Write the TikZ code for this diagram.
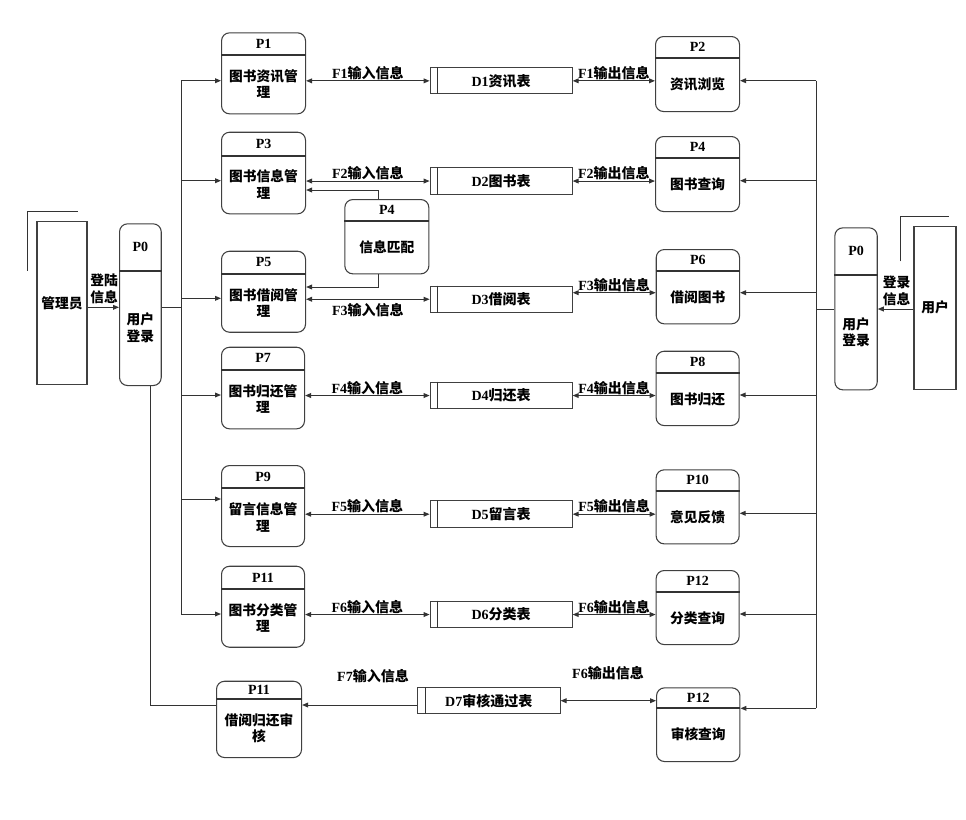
\documentclass[tikz,border=0pt]{standalone}
\usepackage{fontspec}
\setmainfont{Liberation Serif}
\newfontfamily\zh{Noto Sans CJK SC}
\usepackage{tikz}
\usetikzlibrary{positioning,calc,arrows.meta}

\tikzset{
  basefont/.style={font=\fontsize{10.5}{12.5}\selectfont\bfseries},
  zhfont/.style={font=\fontsize{10.3}{12.5}\selectfont\zh\bfseries},
  procbox/.style={draw=black!75, line width=0.8pt, rounded corners=6pt, anchor=north west, inner sep=0pt},
  storebox/.style={draw=black!75, line width=0.8pt, anchor=north west, inner sep=0pt, basefont},
  actorbox/.style={draw=black!75, line width=0.8pt, inner sep=0pt, zhfont},
  divline/.style={draw=black!80, line width=1.3pt},
  plabel/.style={basefont, inner sep=0pt},
  ptext/.style={zhfont, align=center, inner sep=0pt},
  flabel/.style={basefont, inner sep=0.5pt},
  conn/.style={draw=black!80, line width=0.75pt},
  arr/.style={conn, -{Triangle[length=4.5pt,width=3.6pt]}},
  dbl/.style={conn, {Triangle[length=4.5pt,width=3.6pt]}-{Triangle[length=4.5pt,width=3.6pt]}},
}

% process box: name, left, top, width, height, header, id, text
\newcommand{\procnode}[8]{%
  \node[procbox, minimum width=#4*0.75pt, minimum height=#5*0.75pt] at (#2,#3)(#1){};
  \draw[divline] ($(#1.north west)+(0,#6)$) -- ($(#1.north east)+(0,#6)$);
  \node[plabel] at ($(#1.north)+(0,#6/2)$)(#1-id){#7};
  \node[ptext] at ($(#1.north)+(0,{(#6+#5)/2})$)(#1-txt){#8};
}
% data store: name, left, top, width, height, text
\newcommand{\storenode}[6]{%
  \node[storebox, minimum width=#4*0.75pt, minimum height=#5*0.75pt] at (#2,#3)(#1){#6};
  \draw[conn] ($(#1.north west)+(8,0)$) -- ($(#1.south west)+(8,0)$);
}

\begin{document}
\begin{tikzpicture}[x=0.75pt, y=-0.75pt]
\fill[white] (0,0) rectangle (966,819);
\useasboundingbox (0,0) rectangle (966,819);

% external entities
\node[actorbox, minimum width=50*0.75pt, minimum height=163*0.75pt] at (62,303)(admin){管理员};
\draw[conn] ($(admin.north west)+(-9,50)$) -- ($(admin.north west)+(-9,-9)$) -- ($(admin.north west)+(42,-9)$);
\node[actorbox, minimum width=42*0.75pt, minimum height=163*0.75pt] at (935,307.7)(user){用户};
\draw[conn] ($(user.north west)+(-13.3,35.7)$) -- ($(user.north west)+(-13.3,-9.3)$) -- ($(user.north west)+(35.3,-9.3)$);

% processes
\procnode{p0l}{119}{223.3}{41.7}{161.7}{47.7}{P0}{用户\\登录}
\procnode{p0r}{834.3}{227.3}{42.4}{162}{47.7}{P0}{用户\\登录}
\procnode{p1}{221}{32.3}{84}{81}{22.7}{P1}{图书资讯管\\理}
\procnode{p2}{655}{36}{84}{75}{22.3}{P2}{资讯浏览}
\procnode{p3}{221}{131.7}{84}{81.6}{24}{P3}{图书信息管\\理}
\procnode{p4}{655}{136}{84}{75}{21.7}{P4}{图书查询}
\procnode{p4m}{344.3}{199}{84}{74.3}{21.7}{P4}{信息匹配}
\procnode{p5}{221}{250.7}{84}{81}{23.3}{P5}{图书借阅管\\理}
\procnode{p6}{655.7}{249}{83.3}{74.3}{22}{P6}{借阅图书}
\procnode{p7}{221}{346.7}{83}{81.6}{23.3}{P7}{图书归还管\\理}
\procnode{p8}{655.6}{350.7}{83}{74.3}{22}{P8}{图书归还}
\procnode{p9}{221}{465}{83}{81}{23.3}{P9}{留言信息管\\理}
\procnode{p10}{655.6}{469.3}{83}{74}{21.7}{P10}{意见反馈}
\procnode{p11}{221}{565.7}{83}{81}{23.6}{P11}{图书分类管\\理}
\procnode{p12}{655.6}{570}{83}{74}{21.7}{P12}{分类查询}
\procnode{p11b}{216}{680.7}{85}{76.3}{18.3}{P11}{借阅归还审\\核}
\procnode{p12b}{656}{687.3}{83.4}{73.7}{21}{P12}{审核查询}

% data stores
\storenode{d1}{429.6}{67.3}{142}{26}{D1{\zh 资讯表}}
\storenode{d2}{429.6}{167}{142}{27}{D2{\zh 图书表}}
\storenode{d3}{429.6}{285.7}{142}{26}{D3{\zh 借阅表}}
\storenode{d4}{429.6}{381.7}{142}{26.6}{D4{\zh 归还表}}
\storenode{d5}{429.6}{500}{142}{27.3}{D5{\zh 留言表}}
\storenode{d6}{429.6}{600.7}{142}{26.6}{D6{\zh 分类表}}
\storenode{d7}{417}{687.3}{142.5}{26}{D7{\zh 审核通过表}}

% bus points
\coordinate (lbus) at (181,307.3);
\coordinate (rbus) at (816,309);
\coordinate (L1) at (181,80.7);
\coordinate (L2) at (181,180.7);
\coordinate (L3) at (181,298.3);
\coordinate (L4) at (181,395);
\coordinate (L5) at (181,499);
\coordinate (L6) at (181,614);
\coordinate (R1) at (816,80.7);
\coordinate (R2) at (816,180.7);
\coordinate (R3) at (816,292.7);
\coordinate (R4) at (816,395);
\coordinate (R5) at (816,513.3);
\coordinate (R6) at (816,614);
\coordinate (R7) at (816,708.3);
\coordinate (m1) at (378.3,190);
\coordinate (m2) at (378.3,287);
\coordinate (c7) at (150,705);
\coordinate (c8) at (600,700.7);

% login
\draw[arr] (admin.east |- lbus) -- (p0l.west |- lbus);
\node[ptext] at (104,289)(loginl){登陆\\信息};
\draw[arr] (user.west |- rbus) -- (p0r.east |- rbus);
\node[ptext] at (896.7,291)(loginr){登录\\信息};

% left bus
\draw[conn] (p0l.east |- lbus) -- (lbus);
\draw[conn] (L1) -- (L6);
\foreach \i/\p in {1/p1, 2/p3, 3/p5, 4/p7, 5/p9, 6/p11}
  \draw[arr] (L\i) -- (L\i -| \p.west);

% right bus
\draw[conn] (rbus) -- (rbus -| p0r.west);
\draw[conn] (R1) -- (R7);
\foreach \i/\p in {1/p2, 2/p4, 3/p6, 4/p8, 5/p10, 6/p12, 7/p12b}
  \draw[arr] (R\i) -- (R\i -| \p.east);

% flows to and from the stores
\draw[dbl] (p1.east |- d1) -- (d1.west) node[midway, above, flabel](f1in){F1{\zh 输入信息}};
\draw[dbl] (d1.east) -- (d1.east -| p2.west) node[midway, above, flabel](f1out){F1{\zh 输出信息}};
\draw[dbl] (p3.east |- d2) -- (d2.west) node[midway, above, flabel](f2in){F2{\zh 输入信息}};
\draw[dbl] (d2.east) -- (d2.east -| p4.west) node[midway, above, flabel](f2out){F2{\zh 输出信息}};
\draw[dbl] (p5.east |- d3) -- (d3.west) node[midway, below, flabel, inner sep=3pt](f3in){F3{\zh 输入信息}};
\draw[dbl] (R3 -| d3.east) -- (R3 -| p6.west) node[midway, above, flabel](f3out){F3{\zh 输出信息}};
\draw[dbl] (p7.east |- d4) -- (d4.west) node[midway, above, flabel](f4in){F4{\zh 输入信息}};
\draw[dbl] (d4.east) -- (d4.east -| p8.west) node[midway, above, flabel](f4out){F4{\zh 输出信息}};
\draw[dbl] (p9.east |- d5) -- (d5.west) node[midway, above, flabel](f5in){F5{\zh 输入信息}};
\draw[dbl] (d5.east) -- (d5.east -| p10.west) node[midway, above, flabel](f5out){F5{\zh 输出信息}};
\draw[dbl] (p11.east |- d6) -- (d6.west) node[midway, above, flabel](f6in){F6{\zh 输入信息}};
\draw[dbl] (d6.east) -- (d6.east -| p12.west) node[midway, above, flabel](f6out){F6{\zh 输出信息}};

% matching
\draw[arr] (m1 |- p4m.north) -- (m1) -- (m1 -| p3.east);
\draw[arr] (m2 |- p4m.south) -- (m2) -- (m2 -| p5.east);

% review
\draw[conn] (p0l.south -| c7) -- (c7) -- (c7 -| p11b.west);
\draw[arr] (c7 -| d7.west) -- (c7 -| p11b.east);
\draw[dbl] (c8 -| d7.east) -- (c8 -| p12b.west);
\node[flabel] at (373,676)(f7in){F7{\zh 输入信息}};
\node[flabel] at (608,673.3)(f7out){F6{\zh 输出信息}};
\end{tikzpicture}
\end{document}
